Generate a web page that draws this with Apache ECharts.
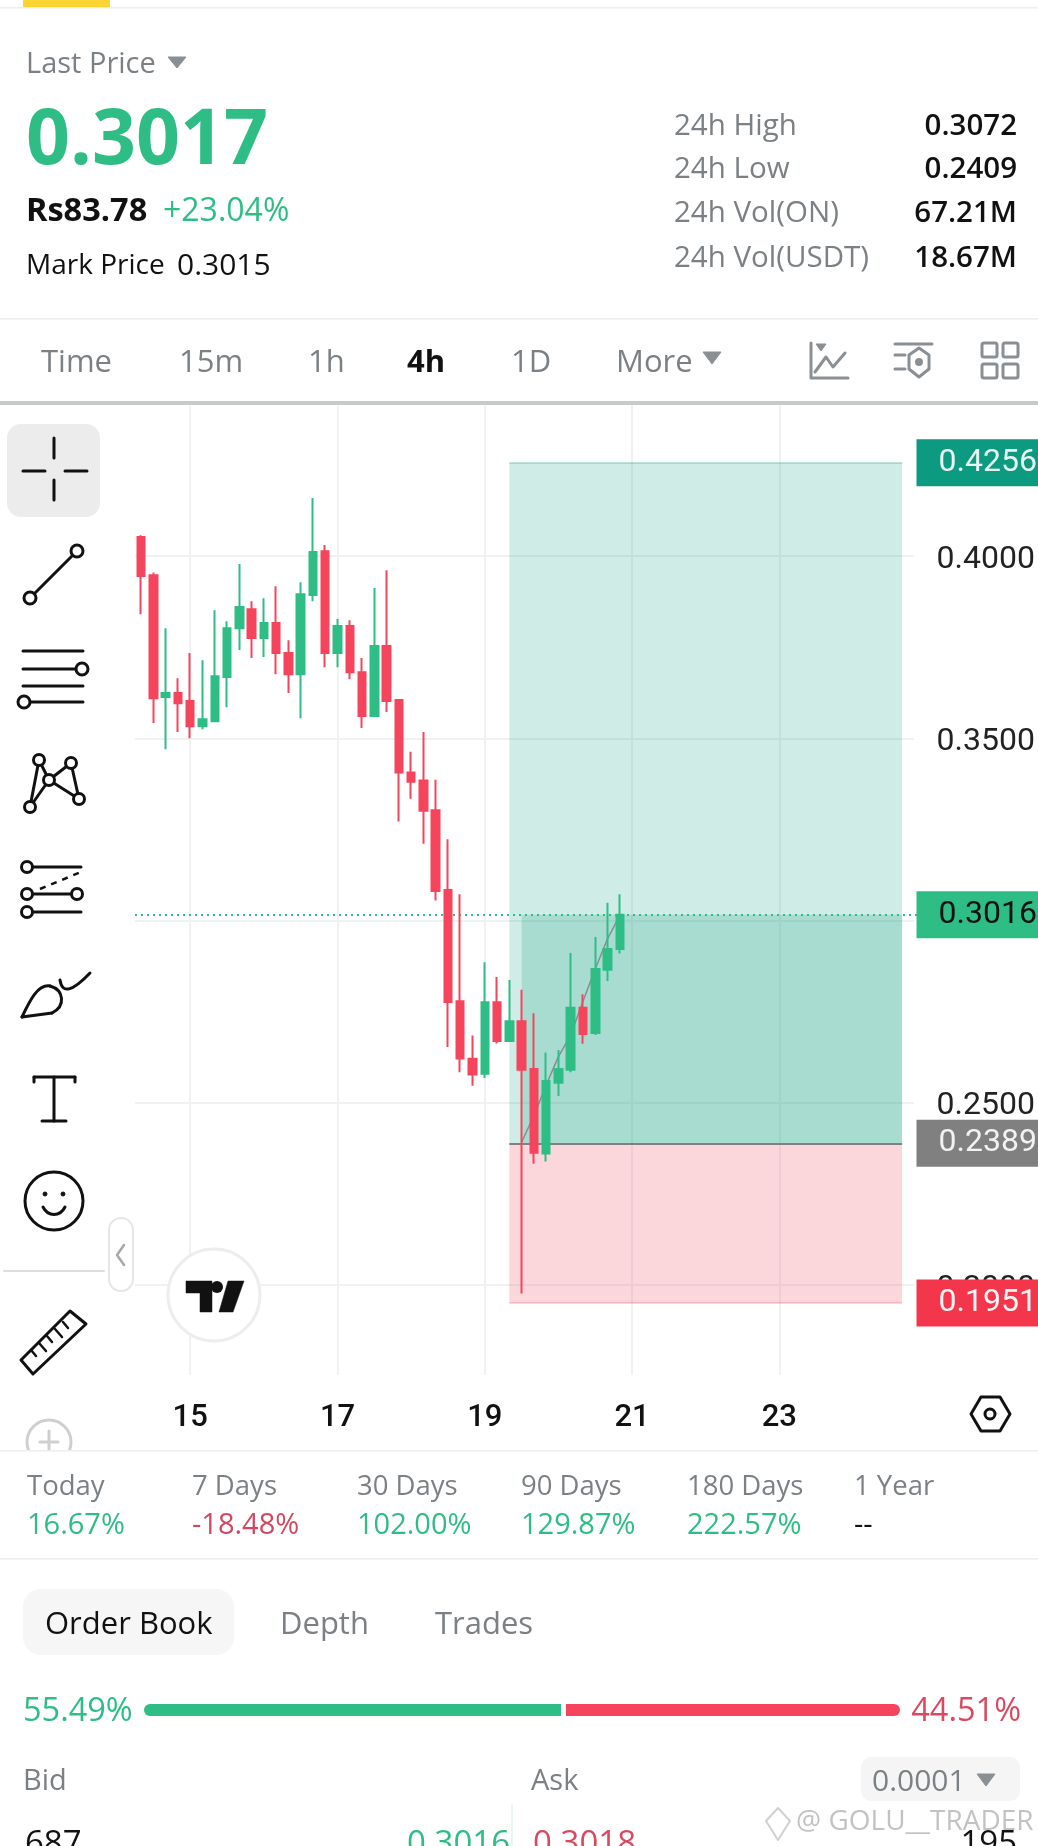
<!DOCTYPE html>
<html><head><meta charset="utf-8">
<style>html,body{margin:0;padding:0;background:#fff;overflow:hidden}#c{width:1038px;height:1846px}</style>
<script src="https://cdn.jsdelivr.net/npm/echarts@6/dist/echarts.min.js"></script>
</head><body><div id="c"></div>
<script>
// ---------- chart data ----------
const dayTicks = ['15','17','19','21','23'];
const tickIndexes = [4,16,28,40,52];
const opens  = [.4052,.3947,.3613,.3624,.3602,.3533,.3547,.3668,.3802,.3854,.3775,.3816,.3734,.3676,.3893,.4013,.3734,.3808,.3681,.3561,.3753,.3605,.3406,.3384,.3303,.3084,.2779,.2621,.2580,.2776,.2670,.2724,.2593,.2361,.2555,.2591,.2761,.2692,.2865,.2922];
const closes = [.3945,.3610,.3624,.3596,.3533,.3552,.3670,.3802,.3860,.3775,.3816,.3734,.3676,.3895,.4011,.3734,.3808,.3681,.3561,.3753,.3602,.3406,.3381,.3301,.3081,.2777,.2622,.2578,.2776,.2670,.2724,.2591,.2363,.2560,.2593,.2761,.2689,.2867,.2922,.3016];
const lows   = [.3840,.3542,.3470,.3517,.3500,.3525,.3547,.3585,.3742,.3720,.3723,.3676,.3624,.3555,.3876,.3695,.3695,.3662,.3528,.3561,.3572,.3272,.3334,.3211,.3055,.2653,.2584,.2547,.2568,.2663,.2670,.1977,.2333,.2339,.2519,.2584,.2662,.2686,.2834,.2910];
const highs  = [.4057,.3955,.3802,.3665,.3734,.3714,.3851,.3821,.3978,.3876,.3884,.3917,.3769,.3928,.4159,.4030,.3827,.3824,.3720,.3912,.3961,.3607,.3463,.3517,.3386,.3223,.3072,.2685,.2886,.2845,.2837,.2810,.2746,.2638,.2645,.2911,.2798,.2955,.3049,.3072];
const pathValues = [.2392,.2465,.2549,.2627,.2686,.2779,.2867,.2950,.3014]; // grey line from candle 31
const pathStart = 31;
const targetPrice = .4256, lastPrice = .3016, entryPrice = .2389, stopPrice = .1951;
const zoneStart = 30, zoneInner = 31, zoneEnd = 62, candleSlots = 64;

// ---------- page text ----------
const statNames = ['24h High','24h Low','24h Vol(ON)','24h Vol(USDT)'];
const statValues = ['0.3072','0.2409','67.21M','18.67M'];
const intervals = ['Time','15m','1h','4h','1D','More'];
const periods = ['Today','7 Days','30 Days','90 Days','180 Days','1 Year'];
const periodValues = ['16.67%','-18.48%','102.00%','129.87%','222.57%','--'];

const UP='#2ebd85', DOWN='#f5455c', GRAY='#7b8084', FONT='"Open Sans", sans-serif', NUM='Roboto, sans-serif';

const categories = Array.from({length:candleSlots},(_,i)=>{const h=(i+2)*4;return 'd'+(14+Math.floor(h/24))+' '+(h%24)+'h';});
const candles = opens.map((o,i)=>[o,closes[i],lows[i],highs[i]]);
const pathData = categories.map((_,i)=>{const k=i-pathStart;return k>=0&&k<pathValues.length?pathValues[k]:null;});

// ---------- chrome helpers ----------
const g=[];
const T=(text,x,y,size,fill,o={})=>g.push({type:'text',z:50,silent:true,style:{text,x,y:y+4,fill,fontSize:size,fontFamily:o.font||FONT,fontWeight:o.w||400,textAlign:o.a||'left',align:o.a||'left',textVerticalAlign:'middle',verticalAlign:'middle'}});
const R=(x,y,w,h,fill,o={})=>g.push({type:'rect',z:o.z||40,silent:true,shape:{x,y,width:w,height:h,r:o.r||0},style:{fill,stroke:o.stroke,lineWidth:o.lw}});
const L=(x1,y1,x2,y2,c='#111',lw=3,o={})=>g.push({type:'line',z:45,silent:true,shape:{x1,y1,x2,y2},style:{stroke:c,lineWidth:lw,lineDash:o.dash,lineCap:o.cap||'round'}});
const C=(cx,cy,r,c='#111',lw=3,fill='#fff',z=46)=>g.push({type:'circle',z,silent:true,shape:{cx,cy,r},style:{stroke:c,lineWidth:lw,fill}});
const PL=(points,c='#111',lw=3)=>g.push({type:'polyline',z:45,silent:true,shape:{points},style:{stroke:c,lineWidth:lw,fill:'none',lineJoin:'round',lineCap:'round'}});
const PG=(points,fill,stroke,lw=3)=>g.push({type:'polygon',z:45,silent:true,shape:{points},style:{fill,stroke,lineWidth:lw,lineJoin:'round'}});
const B=(x1,y1,cpx1,cpy1,cpx2,cpy2,x2,y2,c='#111',lw=3)=>g.push({type:'bezierCurve',z:45,silent:true,shape:{x1,y1,x2,y2,cpx1,cpy1,cpx2,cpy2},style:{stroke:c,lineWidth:lw,fill:'none',lineCap:'round'}});

// mask: right end of the grid, top and bottom sections
R(914,405,7,970,'#fff',{z:1});
// top
R(23,0,87,7,'#fcd535');
R(0,7,1038,1.5,'#eeeeee');
T('Last Price',26,61,29,GRAY);
PG([[168,57],[186,57],[177,68]],'#8a8f93','#8a8f93',1);
T('0.3017',26,138,77,UP,{w:700});
T('Rs83.78',26,208,32.5,'#111',{w:700});
T('+23.04%',163,208,32,UP,{w:500});
T('Mark Price',26,262,28,'#111');
T('0.3015',177,262,30,'#111');
statNames.forEach((s,i)=>{const y=[123,166,210,255][i];T(s,674,y,29.5,GRAY);T(statValues[i],1017,y,29.5,'#111',{a:'right',w:600});});
R(0,318,1038,1.5,'#eeeeee');
// interval tabs
const tabX=[41,179,308,407,511,616];
intervals.forEach((s,i)=>T(s,tabX[i],359,31,i===3?'#111':GRAY,{w:i===3?700:400}));
PG([[703,352],[721,352],[712,364]],'#8a8f93','#8a8f93',1);
R(0,401,1038,4,'#c6cacb');
// indicator icon
const IC='#8a8f93';
PL([[811,343],[811,378],[848,378]],IC,3);PL([[815,372],[826,357],[833,367],[845,353]],IC,3);
PG([[816,344],[826,344],[821,351]],IC,IC,1);
// template icon
L(895,344,932,344,IC,3);L(895,355,905,355,IC,3);L(895,369,905,369,IC,3);
PG([[919,348],[929,355],[929,369],[919,377],[909,369],[909,355]],'none',IC,3);C(919,362,3,IC,2,IC);
// layout icon
[[982,343],[1003,343],[982,364],[1003,364]].forEach(p=>R(p[0],p[1],15,14,'none',{r:2,stroke:IC,lw:3,z:45}));
// toolbar
R(7,424,93,93,'#ececec',{r:14});
L(23,471,45,471);L(65,471,87,471);L(54,438,54,458);L(54,480,54,500);
L(30,598,77,551);C(30,598,6);C(77,551,6);
L(23,651,83,651);L(23,669,83,669);L(23,686,83,686);L(24,702,83,702);C(82,669,6);C(24,702,6);
const pA=[30,807],pB=[39,760],pC=[49,780],pD=[71,763],pE=[79,799];
[[pA,pB],[pB,pC],[pA,pC],[pC,pE],[pC,pD],[pD,pE]].forEach(s=>L(s[0][0],s[0][1],s[1][0],s[1][1]));
[pA,pB,pC,pD,pE].forEach(p=>C(p[0],p[1],5.5));
L(27,867,81,867);C(27,867,5.5);L(27,894,77,894);C(27,894,5.5);C(77,894,5.5);L(27,912,81,912);C(27,912,5.5);
L(40,889,81,872,'#111',2.5,{dash:[6,6],cap:'butt'});
B(22,1017,30,1000,38,984,50,986,'#111',3);B(50,986,64,990,66,1006,52,1013,'#111',3);L(52,1013,22,1017);
B(60,980,62,994,72,992,90,973,'#111',3);
L(34,1077,75,1077);L(34,1077,34,1082);L(75,1077,75,1082);L(54,1077,54,1121);L(42,1121,66,1121);
C(54,1201,29,'#111',3,'none');C(45,1194,2,'#111',1,'#111');C(63,1194,2,'#111',1,'#111');B(43,1207,48,1217,60,1217,65,1207);
L(4,1271,104,1271,'#dddddd',2);
PG([[21,1360],[33,1374],[86,1324],[70,1311]],'none','#111',3);
[[31,1350,36,1356],[39,1343,46,1351],[47,1336,52,1342],[55,1329,62,1337],[63,1322,68,1328]].forEach(t=>L(t[0],t[1],t[2],t[3],'#111',2.5));
C(49,1442,22,'#cfcfcf',3,'#fff',40);L(49,1431,49,1449,'#cfcfcf',3);L(40,1442,58,1442,'#cfcfcf',3);
// handle
R(109,1218,24,73,'#fff',{r:12,stroke:'#e6e6e6',lw:2,z:42});
PL([[124,1245],[117,1255],[124,1265]],'#a8a8a8',2.5);
// logo
C(214,1295,46,'#eceded',3,'#fff',42);
PG([[186,1281],[212,1281],[212,1312],[200,1312],[200,1293],[186,1293]],'#111','#111',.5);
C(217,1287,6,'#111',0,'#111');
PG([[228,1281],[244,1281],[233,1312],[219,1312]],'#111','#111',.5);
// settings hexagon
PG([[971,1414],[981,1397],[1000,1397],[1010,1414],[1000,1431],[981,1431]],'#fff','#111',3);C(990,1414,5);
// bottom sections
R(0,1450,1038,396,'#fff',{z:47});
R(0,1450,1038,1.5,'#eeeeee',{z:48});
const perX=[27,192,357,521,687,854];
periods.forEach((s,i)=>{T(s,perX[i],1483,27.5,GRAY);
 T(periodValues[i],perX[i],1522,29,periodValues[i]==='--'?'#111':(periodValues[i][0]==='-'?'#cf4a60':UP));});
R(0,1558,1038,1.5,'#eeeeee',{z:48});
R(23,1589,211,66,'#f6f6f6',{r:18,z:48});
T('Order Book',45,1621,31,'#111',{w:500});
T('Depth',280,1621,31,GRAY);
T('Trades',435,1621,31,GRAY);
T('55.49%',23,1708,32.5,UP);
R(144,1704,417,12,UP,{r:[6,0,0,6],z:48});
R(566,1704,334,12,DOWN,{r:[0,6,6,0],z:48});
T('44.51%',1021,1708,32.5,'#d94a60',{a:'right'});
T('Bid',23,1778,29,GRAY);T('Ask',531,1778,29,GRAY);
R(861,1757,159,44,'#f5f5f5',{r:10,z:48});
T('0.0001',872,1778,30,GRAY);
PG([[977,1774],[995,1774],[986,1786]],'#8a8f93','#8a8f93',1);
g[g.length-1].z=49;
T('687',25,1841,33,'#111');
T('0.3016',510,1841,33,UP,{a:'right'});
L(512,1805,512,1846,'#e6f2ee',1.5);g[g.length-1].z=48;
T('0.3018',533,1841,33,'#d94a60');
T('195',1017,1841,33,'#111',{a:'right'});
T('@ GOLU__TRADER',796,1818,28,'rgba(120,120,120,.45)');
PG([[778,1808],[790,1821],[778,1840],[766,1821]],'none','rgba(120,120,120,.35)',2);g[g.length-1].z=49;

// ---------- option ----------
const tag=(v,bg,fg)=>({yAxis:v,lineStyle:{color:'transparent'},label:{show:true,position:'end',distance:-4,formatter:v.toFixed(4),
  backgroundColor:bg,color:fg,fontFamily:NUM,fontSize:32,width:100,height:33,lineHeight:33,padding:[9,0,5,22],align:'left',verticalAlign:'middle'}});
const hline=(v,from,to,style)=>[{xAxis:categories[from],yAxis:v,lineStyle:style},{xAxis:categories[to],yAxis:v}];
const option={
 animation:false,
 grid:{left:135,top:373.7,width:785.5,height:1093.8,containLabel:false},
 xAxis:{type:'category',data:categories,boundaryGap:true,offset:-94,
   axisLine:{show:false},axisTick:{show:false},splitLine:{show:false},
   axisLabel:{interval:i=>tickIndexes.includes(i),margin:29,fontFamily:NUM,fontSize:31,fontWeight:500,color:'#111',
     formatter:(v,i)=>dayTicks[tickIndexes.indexOf(i)]||''}},
 yAxis:{type:'value',position:'right',min:.15,max:.45,interval:.05,
   axisLine:{show:false},axisTick:{show:false},
   axisLabel:{margin:16,showMinLabel:false,showMaxLabel:false,formatter:v=>'{a|'+v.toFixed(4)+'}',
     rich:{a:{fontFamily:NUM,fontSize:32,color:'#222',padding:[7,0,0,0]}}},
   splitLine:{show:true,showMinLine:false,showMaxLine:false,lineStyle:{color:'#f1f1f2',width:2}}},
 graphic:{elements:g},
 series:[
  {type:'line',data:[],z:1,silent:true,markLine:{silent:true,symbol:'none',z:1,precision:4,animation:false,label:{show:false},
     lineStyle:{color:'#f1f1f2',width:2,type:'solid'},
     data:tickIndexes.map(i=>[{xAxis:categories[i],yAxis:.1754},{xAxis:categories[i],yAxis:.4414}])}},
  {type:'candlestick',data:candles,z:4,barWidth:8,silent:true,
    itemStyle:{color:UP,color0:DOWN,borderColor:UP,borderColor0:DOWN,borderWidth:2},
    markArea:{silent:true,z:2,precision:4,animation:false,label:{show:false},data:[
      [{xAxis:categories[zoneStart],yAxis:targetPrice,itemStyle:{color:'rgba(0,156,122,.19)'}},{xAxis:categories[zoneEnd],yAxis:entryPrice}],
      [{xAxis:categories[zoneInner],yAxis:lastPrice,itemStyle:{color:'rgba(0,156,122,.19)'}},{xAxis:categories[zoneEnd],yAxis:entryPrice}],
      [{xAxis:categories[zoneStart],yAxis:entryPrice,itemStyle:{color:'rgba(235,70,90,.22)'}},{xAxis:categories[zoneEnd],yAxis:stopPrice}]
    ]}},
  {type:'line',data:pathData,z:3,silent:true,showSymbol:false,connectNulls:false,lineStyle:{color:'#8c8c8c',width:1.5},
    markLine:{silent:true,symbol:'none',z:3,precision:4,animation:false,label:{show:false},data:[
      hline(entryPrice,zoneStart,zoneEnd,{color:'#808080',width:2,type:'solid'}),
      hline(targetPrice,zoneStart,zoneEnd,{color:'rgba(0,156,122,.3)',width:1.5,type:'solid'}),
      hline(stopPrice,zoneStart,zoneEnd,{color:'rgba(240,70,90,.3)',width:1.5,type:'solid'}),
      {yAxis:lastPrice,lineStyle:{color:UP,width:2,type:[2,4]}}
    ]}},
  {type:'line',data:[],z:6,silent:true,markLine:{silent:true,symbol:'none',z:6,precision:4,animation:false,data:[
      tag(targetPrice,'#0c9a80','#e8f5f1'),tag(lastPrice,UP,'#111'),tag(entryPrice,'#808080','#f2f2f2'),tag(stopPrice,'#f3364c','#f6f6f6')
    ]}}
 ]
};
const chart=echarts.init(document.getElementById('c'),null,{width:1038,height:1846});
chart.setOption(option);
</script></body></html>
